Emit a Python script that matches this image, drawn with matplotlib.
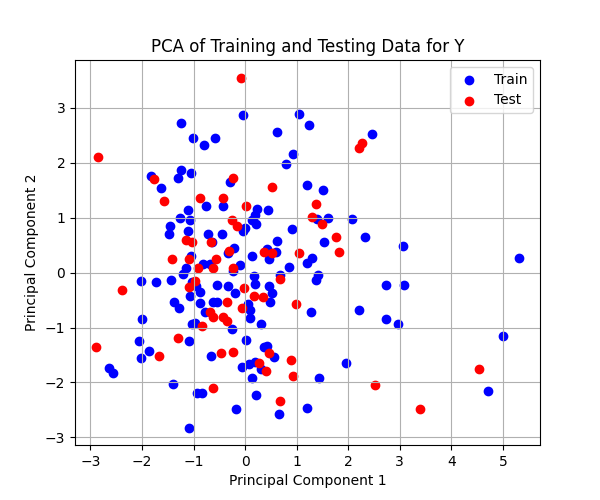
import matplotlib
matplotlib.use('Agg')
import matplotlib.pyplot as plt

# PCA coordinates
train_pc1 = [-1.24, -1.01, -0.79, -0.58, -0.04, 1.05, 1.24, 0.62, 2.46, 0.93,
             0.79, -1.24, -1.82, -1.30, -1.05, -1.63, -0.29, 1.20, 1.51,
             -1.10, -1.26, -1.07, -1.45, -1.47, -1.10, -1.05, -1.14, -1.20, -2.02,
             -1.72, -1.43, -1.03, -1.07, -1.38, -1.28, -2.00,
             -0.76, -0.43, 0.23, 0.45, 0.19, 0.14, 0.21, 0.00, -0.04, 0.91,
             -0.72, -0.45, -0.64, 0.62, -0.21, -0.33, 0.43, 0.60, 0.47, 0.14,
             1.20, 0.85, -0.81, -0.68, -0.10, -0.23, 0.68, 0.17, 0.19,
             -0.95, -0.54, -0.33, 0.47, -0.19, -0.87, 0.52, 0.48, -0.87, -0.62,
             -0.54, 0.06, 0.10, -0.78, 0.10, 1.28,
             1.40, 1.61, 2.07, 2.33, 1.53, 3.06, 1.30, 1.41, 1.38, 2.73, 3.08,
             2.21, 2.73, 2.97, 5.31,
             -1.03, -1.09, -2.05, -1.86, -2.02, -2.64, -2.56, -1.40, -0.93, -1.09,
             -0.97, 0.31, -0.25, 0.02, -0.66, 0.43, 0.37, 0.56, -0.06, 0.08,
             0.19, 0.31, 0.14, -0.83, 0.21, 0.66, -0.17, 1.20, 1.96, 1.43,
             5.00, 4.71]
train_pc2 = [2.73, 2.44, 2.33, 2.45, 2.87, 2.89, 2.69, 2.56, 2.53, 2.15,
             1.98, 1.87, 1.76, 1.73, 1.82, 1.53, 1.64, 1.60, 1.51,
             1.13, 1.00, 0.95, 0.85, 0.71, 0.76, 0.31, 0.09, -0.02, -0.15,
             -0.18, -0.13, -0.18, -0.42, -0.53, -0.64, -0.85,
             1.22, 1.22, 1.16, 1.13, 1.05, 0.96, 0.89, 0.82, 0.75, 0.80,
             0.71, 0.71, 0.56, 0.58, 0.45, 0.36, 0.42, 0.38, 0.25, 0.31,
             0.18, 0.11, 0.16, 0.16, 0.13, 0.02, -0.05, -0.07, -0.20,
             -0.25, -0.22, -0.25, -0.24, -0.38, -0.35, -0.38, -0.53, -0.55, -0.53,
             -0.53, -0.58, -0.69, -0.71, -0.82, -0.71,
             0.98, 1.00, 0.98, 0.65, 0.56, 0.49, 0.27, -0.05, -0.13, -0.22, -0.22,
             -0.69, -0.84, -0.93, 0.27,
             -0.93, -1.25, -1.25, -1.42, -1.55, -1.73, -1.82, -2.02, -2.20, -2.82,
             -0.91, -0.93, -1.02, -1.22, -1.51, -1.33, -1.36, -1.53, -1.71, -1.67,
             -1.62, -1.76, -1.91, -2.20, -2.22, -2.58, -2.49, -2.47, -1.65, -1.91,
             -1.16, -2.16]

test_pc1 = [-2.85, -1.76, -0.08, -0.23, 0.52, 2.21, 2.27, -1.57, -1.14, -1.03,
            -1.41, -1.09, -2.38, -1.09, -0.87, -0.43, 0.02, -0.25, -0.16, -0.66,
            -0.31, 0.37, 0.52, 1.05, -0.56, -0.62, -0.91, -0.23, 0.68, -0.97,
            -0.02, 0.17, 0.35, -0.35, -0.06, 0.99, -0.68, -0.62, -0.43, -0.35,
            -0.83, 1.38, 1.30, 1.49, 1.76, 1.82, -1.30, -2.89, -1.67, -0.47,
            -0.23, 0.47, 0.89, 0.27, 0.41, 0.93, -0.62, 0.68, 2.52, 3.39, 4.53]
test_pc2 = [2.11, 1.71, 3.55, 1.73, 1.56, 2.27, 2.36, 1.31, 0.60, 0.55,
            0.24, 0.24, -0.31, -0.27, 1.36, 1.36, 1.22, 0.95, 0.85, 0.55,
            0.40, 0.38, 0.36, 0.35, 0.25, 0.09, 0.09, 0.09, -0.11, -0.16,
            -0.29, -0.42, -0.45, -0.53, -0.64, -0.58, -0.71, -0.80, -0.80, -0.89,
            -0.98, 1.25, 1.02, 0.89, 0.65, 0.38, -1.20, -1.35, -1.51, -1.47,
            -1.45, -1.47, -1.60, -1.65, -1.80, -1.89, -2.11, -2.33, -2.04, -2.49, -1.75]

x_ticks = [-3, -2, -1, 0, 1, 2, 3, 4, 5]

plt.figure(figsize=(6, 5))
plt.scatter(train_pc1, train_pc2, c='blue', label='Train')
plt.scatter(test_pc1, test_pc2, c='red', label='Test')
plt.xticks(x_ticks)
plt.xlabel('Principal Component 1')
plt.ylabel('Principal Component 2')
plt.title('PCA of Training and Testing Data for Y')
plt.legend()
plt.grid(True)
plt.savefig('out.png', dpi=100)
